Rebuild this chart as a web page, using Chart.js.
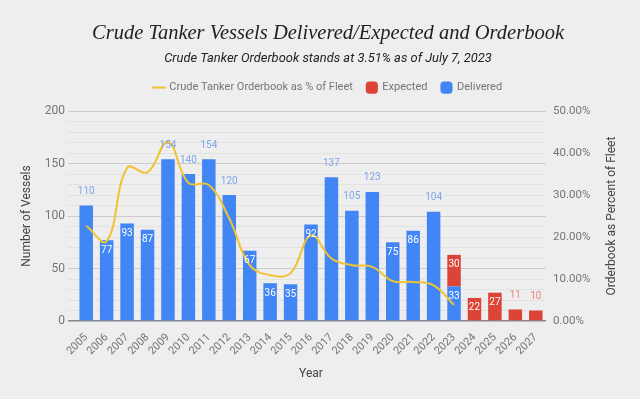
<!DOCTYPE html>
<html>
<head>
<meta charset="utf-8">
<script src="https://cdn.jsdelivr.net/npm/chart.js@4.4.0/dist/chart.umd.min.js"></script>
<style>
  html, body { margin: 0; padding: 0; background: #eeeeee; }
  #wrap { width: 640px; height: 399px; }
</style>
</head>
<body>
<div id="wrap"><canvas id="tankerChart" width="640" height="399"></canvas></div>
<script>
// --- dados ---
const anos = ['2005', '2006', '2007', '2008', '2009', '2010', '2011', '2012', '2013', '2014', '2015', '2016',
    '2017', '2018', '2019', '2020', '2021', '2022', '2023', '2024', '2025', '2026', '2027'];
const entregues = [110, 77, 93, 87, 154, 140, 154, 120, 67, 36, 35, 92, 137, 105, 123, 75, 86, 104, 33, 0, 0, 0, 0];
const esperados = [0, 0, 0, 0, 0, 0, 0, 0, 0, 0, 0, 0, 0, 0, 0, 0, 0, 0, 30, 22, 27, 11, 10];
const orderbookPct = [22.7, 19.0, 36.5, 35.4, 42.7, 32.9, 32.4, 24.4, 13.3, 10.9, 11.4, 20.4, 14.9, 13.3, 12.9,
    9.5, 9.3, 8.5, 3.8, null, null, null, null];
const ticksVessels = [0, 50, 100, 150, 200];

// onde cada rótulo fica: dentro (true) ou acima da barra
const entreguesDentro = [false, true, true, true, false, false, false, false, true, true, true, true,
    false, false, false, true, true, false, true, false, false, false, false];
const esperadosDentro = [false, false, false, false, false, false, false, false, false, false, false, false,
    false, false, false, false, false, false, true, true, true, false, false];

const AZUL = '#4285f4';
const VERMELHO = '#db4437';
const AMARELO = '#f1c232';
const TITULO_DIREITA = 'Orderbook as Percent of Fleet';

// rótulos de dados desenhados à mão (sem plugin externo)
const rotulosPlugin = {
    id: 'rotulos',
    afterDatasetsDraw(chart) {
        const ctx = chart.ctx;
        ctx.save();
        ctx.font = '10px Roboto';
        ctx.textAlign = 'center';
        ctx.textBaseline = 'middle';
        const config = [
            { idx: 1, dados: entregues, dentro: entreguesDentro, corFora: '#7ea6ec' },
            { idx: 2, dados: esperados, dentro: esperadosDentro, corFora: '#e8877d' }
        ];
        config.forEach(c => {
            const meta = chart.getDatasetMeta(c.idx);
            meta.data.forEach((bar, i) => {
                const v = c.dados[i];
                if (!v) return;
                if (c.dentro[i]) {
                    ctx.fillStyle = '#ffffff';
                    ctx.fillText(v, bar.x, bar.y + 10);
                } else {
                    ctx.fillStyle = c.corFora;
                    ctx.fillText(v, bar.x, bar.y - 14);
                }
            });
        });
        ctx.restore();
    }
};

// título do eixo direito lido de baixo para cima, como no original
const tituloDireitaPlugin = {
    id: 'tituloDireita',
    afterDraw(chart) {
        const ctx = chart.ctx;
        const area = chart.chartArea;
        ctx.save();
        ctx.translate(612, (area.top + area.bottom) / 2);
        ctx.rotate(-Math.PI / 2);
        ctx.font = '12px Roboto';
        ctx.fillStyle = '#444444';
        ctx.textAlign = 'center';
        ctx.textBaseline = 'middle';
        ctx.fillText(TITULO_DIREITA, 0, 0);
        ctx.restore();
    }
};

// mais espaço entre a legenda e o gráfico
const espacoLegendaPlugin = {
    id: 'espacoLegenda',
    beforeInit(chart) {
        const fitOriginal = chart.legend.fit;
        chart.legend.fit = function () {
            fitOriginal.bind(chart.legend)();
            this.height += 8;
        };
    }
};

const legendaOrdem = { 'Crude Tanker Orderbook as % of Fleet': 0, 'Expected': 1, 'Delivered': 2 };

const chart = new Chart(document.getElementById('tankerChart'), {
    data: {
        labels: anos,
        datasets: [
            {
                type: 'line',
                label: 'Crude Tanker Orderbook as % of Fleet',
                data: orderbookPct,
                yAxisID: 'yPct',
                borderColor: AMARELO,
                backgroundColor: AMARELO,
                borderWidth: 2,
                pointRadius: 0,
                tension: 0.4,
                order: 0,
                pointStyle: 'line'
            },
            {
                type: 'bar',
                label: 'Delivered',
                data: entregues,
                yAxisID: 'y',
                backgroundColor: AZUL,
                stack: 's',
                order: 1,
                barPercentage: 0.66,
                categoryPercentage: 1,
                pointStyle: 'rectRounded'
            },
            {
                type: 'bar',
                label: 'Expected',
                data: esperados,
                yAxisID: 'y',
                backgroundColor: VERMELHO,
                stack: 's',
                order: 1,
                barPercentage: 0.66,
                categoryPercentage: 1,
                pointStyle: 'rectRounded'
            }
        ]
    },
    options: {
        responsive: false,
        animation: false,
        layout: { padding: { left: 16, right: 0, top: 0, bottom: 14 } },
        plugins: {
            title: {
                display: true,
                text: 'Crude Tanker Vessels Delivered/Expected and Orderbook',
                color: '#222222',
                font: { family: 'Liberation Serif', size: 20.5, style: 'italic', weight: 'normal' },
                padding: { top: 21, bottom: 5 }
            },
            subtitle: {
                display: true,
                text: 'Crude Tanker Orderbook stands at 3.51% as of July 7, 2023',
                color: '#222222',
                font: { family: 'Roboto', size: 12.9, style: 'italic' },
                padding: { bottom: 2 }
            },
            legend: {
                labels: {
                    color: '#757575',
                    font: { family: 'Roboto', size: 11 },
                    usePointStyle: true,
                    boxWidth: 10,
                    boxHeight: 10,
                    padding: 14,
                    sort: (a, b) => legendaOrdem[a.text] - legendaOrdem[b.text]
                }
            },
            tooltip: { enabled: false }
        },
        scales: {
            x: {
                stacked: true,
                grid: { display: false },
                border: { display: false },
                ticks: {
                    color: '#757575',
                    font: { family: 'Roboto', size: 11 },
                    maxRotation: 45,
                    minRotation: 45,
                    autoSkip: false,
                    padding: 2
                },
                title: {
                    display: true,
                    text: 'Year',
                    color: '#444444',
                    font: { family: 'Roboto', size: 12 }
                },
                afterFit: s => { s.height = 64; }
            },
            y: {
                stacked: true,
                position: 'left',
                min: 0,
                max: 200,
                grid: {
                    color: c => c.tick.value === 0 ? '#888888' : (ticksVessels.includes(c.tick.value) ? '#cccccc' : '#e2e2e2'),
                    lineWidth: c => c.tick.value === 0 ? 1.5 : 1
                },
                border: { display: false },
                ticks: {
                    stepSize: 10,
                    autoSkip: false,
                    color: '#757575',
                    font: { family: 'Roboto', size: 12 },
                    callback: v => ticksVessels.includes(v) ? v : ''
                },
                title: {
                    display: true,
                    text: 'Number of Vessels',
                    color: '#444444',
                    font: { family: 'Roboto', size: 12 }
                },
                afterFit: s => { s.width = 60; }
            },
            yPct: {
                position: 'right',
                min: 0,
                max: 50,
                grid: { display: false, drawTicks: false },
                border: { display: false },
                ticks: {
                    stepSize: 10,
                    padding: 7,
                    color: '#757575',
                    font: { family: 'Roboto', size: 11.5 },
                    callback: v => v.toFixed(2) + '%'
                },
                afterFit: s => { s.width = 94; }
            }
        }
    },
    plugins: [rotulosPlugin, tituloDireitaPlugin, espacoLegendaPlugin]
});
</script>
</body>
</html>
